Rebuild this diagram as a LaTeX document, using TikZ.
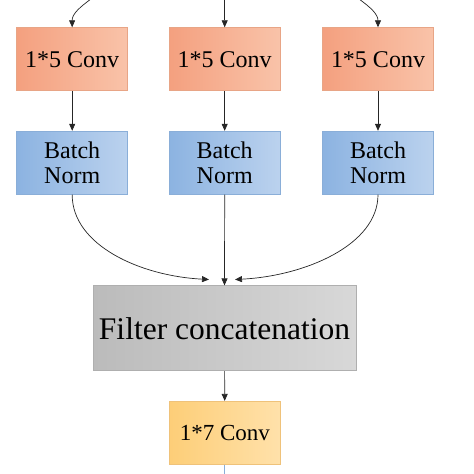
\documentclass[tikz,border=0pt]{standalone}
\usepackage{fontspec}
\setmainfont{Liberation Serif}
\usetikzlibrary{arrows.meta}
\definecolor{convL}{HTML}{F4A07F}
\definecolor{convR}{HTML}{F9C3A9}
\definecolor{convB}{HTML}{E8A586}
\definecolor{bnL}{HTML}{8CB3E1}
\definecolor{bnR}{HTML}{BBD2EE}
\definecolor{bnB}{HTML}{8AAED8}
\definecolor{catL}{HTML}{BBBBBB}
\definecolor{catR}{HTML}{D8D8D8}
\definecolor{catB}{HTML}{AFAFAF}
\definecolor{ylL}{HTML}{FDCE78}
\definecolor{ylR}{HTML}{FFE1AA}
\definecolor{ylB}{HTML}{EFC27A}
\definecolor{arr}{HTML}{262626}
\tikzset{
  box/.style={draw, line width=0.8pt, shading=axis, shading angle=90, minimum width=111pt, inner sep=0pt, align=center, font=\fontsize{24}{25.5}\selectfont, text=black},
  convbox/.style={box, left color=convL, right color=convR, draw=convB, minimum height=63pt},
  bnbox/.style={box, left color=bnL, right color=bnR, draw=bnB, minimum height=63pt},
  catbox/.style={box, left color=catL, right color=catR, draw=catB, minimum width=263pt, minimum height=85pt, font=\fontsize{31.5}{33}\selectfont},
  ylbox/.style={box, left color=ylL, right color=ylR, draw=ylB, minimum height=63pt, font=\fontsize{23}{25}\selectfont},
  link/.style={draw=arr, line width=0.7pt, -{Triangle[length=7pt,width=6pt]}},
}
\begin{document}
\begin{tikzpicture}[x=1pt,y=-1pt]
\useasboundingbox (0,0) rectangle (474,474);
\node[convbox] (c1) at (72.2,59.2) {1*5 Conv};
\node[convbox] (c2) at (224.7,59.2) {1*5 Conv};
\node[convbox] (c3) at (378,59.2) {1*5 Conv};
\node[bnbox] (b1) at (72.2,162.7) {Batch\\Norm};
\node[bnbox] (b2) at (224.7,162.7) {Batch\\Norm};
\node[bnbox] (b3) at (378,162.7) {Batch\\Norm};
\node[catbox] (cat) at (224.5,328.3) {Filter concatenation};
\node[ylbox] (y) at (224.8,432.8) {1*7 Conv};
\coordinate (t1) at (91,-1);
\coordinate (t2) at (224.7,-1);
\coordinate (t3) at (359,-1);
\coordinate (e) at (224.8,475);
\coordinate (inL) at (209,279.5);
\coordinate (inR) at (235,279.5);
\draw[link] (t1) .. controls (80,7) and (72,14) .. (c1.north);
\draw[link] (t2) -- (c2.north);
\draw[link] (t3) .. controls (370,7) and (378,14) .. (c3.north);
\draw[link] (c1) -- (b1);
\draw[link] (c2) -- (b2);
\draw[link] (c3) -- (b3);
\draw[link] (b1.south) .. controls (72,245) and (140,276) .. (inL);
\draw[link] (b2.south) -- (cat.north);
\draw[link] (b3.south) .. controls (378,245) and (305,276) .. (inR);
\draw[link] (cat) -- (y);
\draw[draw=bnB, line width=0.8pt] (y.south) -- (e);
\end{tikzpicture}
\end{document}
